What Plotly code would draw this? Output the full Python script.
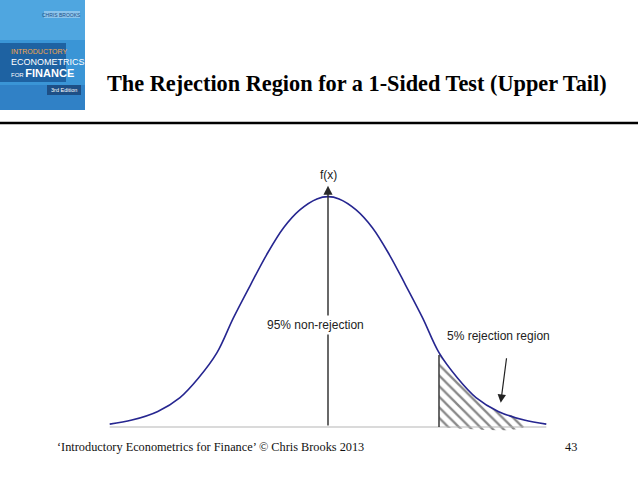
import plotly.graph_objects as go

# ---- data (x in standard units, y = density) ----
curve_x = [-2.95, -2.65, -2.3, -2.0, -1.75, -1.5, -1.28, -1.05, -0.83, -0.6, -0.38, -0.15, 0.0,
           0.15, 0.38, 0.6, 0.83, 1.05, 1.28, 1.5, 1.75, 2.0, 2.3, 2.65, 2.95]
curve_y = [0.005, 0.012, 0.027, 0.051, 0.085, 0.129, 0.189, 0.246, 0.299, 0.346, 0.377, 0.396, 0.400,
           0.396, 0.377, 0.346, 0.299, 0.246, 0.189, 0.129, 0.085, 0.051, 0.027, 0.012, 0.005]
critical_value = 1.5
tail_end = 2.65
axis_top = 0.419

title_text = "The Rejection Region for a 1-Sided Test (Upper Tail)"
footer_text = "\u2018Introductory Econometrics for Finance\u2019 \u00a9 Chris Brooks 2013"
page_number = "43"
label_fx = "f(x)"
label_accept = "95% non-rejection"
label_reject = "5% rejection region"

W, H = 638, 478


def px(x):
    return x / W


def py(y):
    return 1 - y / H


def ptext(x, y, text, font, xanchor="center"):
    return dict(x=px(x), y=py(y), xref="paper", yref="paper", xanchor=xanchor, yanchor="middle",
                text=text, showarrow=False, font=font)


tail_x = [x for x in curve_x if critical_value <= x <= tail_end]
tail_y = [y for x, y in zip(curve_x, curve_y) if critical_value <= x <= tail_end]
crit_y = curve_y[curve_x.index(critical_value)]

fig = go.Figure()

# hatched rejection region
fig.add_trace(go.Scatter(
    x=tail_x + [tail_x[-1], critical_value], y=tail_y + [0, 0],
    mode="none", fill="toself", fillcolor="white",
    fillpattern=dict(shape="\\", size=7.5, solidity=0.3, fgcolor="#111111", bgcolor="white"),
    line=dict(shape="spline"), hoverinfo="skip", showlegend=False))

# baseline
fig.add_trace(go.Scatter(x=[curve_x[0], curve_x[-1]], y=[0, 0], mode="lines",
                         line=dict(color="#b5b5b5", width=1.2), hoverinfo="skip", showlegend=False))

# critical value line
fig.add_trace(go.Scatter(x=[critical_value, critical_value], y=[0, crit_y - 0.004], mode="lines",
                         line=dict(color="#444444", width=1.6), hoverinfo="skip", showlegend=False))

# density curve
fig.add_trace(go.Scatter(x=curve_x, y=curve_y, mode="lines",
                         line=dict(color="#262690", width=1.6, shape="spline", smoothing=1.0),
                         hoverinfo="skip", showlegend=False))

sans = "Liberation Sans, Arial"
serif = "Liberation Serif, Times New Roman"

annotations = [
    # vertical f(x) axis arrow
    dict(x=0, y=axis_top, ax=0, ay=0, xref="x", yref="y", axref="x", ayref="y",
         showarrow=True, arrowhead=2, arrowsize=1.3, arrowwidth=1.4, arrowcolor="#2a2a2a", text=""),
    dict(x=0, y=axis_top + 0.018, xref="x", yref="y", text=label_fx, showarrow=False,
         font=dict(family=sans, size=12, color="#222222")),
    dict(x=-0.165, y=0.177, xref="x", yref="y", text=label_accept, showarrow=False,
         bgcolor="white", borderpad=2,
         font=dict(family=sans, size=12, color="#222222")),
    dict(x=2.3, y=0.158, xref="x", yref="y", text=label_reject, showarrow=False,
         font=dict(family=sans, size=12, color="#222222")),
    # arrow to rejection region
    dict(x=2.334, y=0.042, ax=2.415, ay=0.122, xref="x", yref="y", axref="x", ayref="y",
         showarrow=True, arrowhead=2, arrowsize=1.4, arrowwidth=1.2, arrowcolor="#222222", text=""),
    # title
    ptext(357, 83, "<b>" + title_text + "</b>", dict(family=serif, size=22.3, color="black")),
    # footer
    ptext(55, 447, footer_text, dict(family=serif, size=12.3, color="#111111"), xanchor="left"),
    ptext(571, 447, page_number, dict(family=serif, size=12.3, color="#111111")),
    # book cover texts
    ptext(62, 14.5, "CHRIS BROOKS", dict(family=sans, size=5, color="#1d4f86")),
    ptext(9, 52, "INTRODUCTORY", dict(family=sans, size=7, color="#f3a94a"), xanchor="left"),
    ptext(9, 62, "ECONOMETRICS", dict(family=sans, size=9, color="white"), xanchor="left"),
    ptext(9, 73, "<span style='font-size:6px'>FOR </span><b>FINANCE</b>",
          dict(family=sans, size=11, color="white"), xanchor="left"),
    ptext(64, 90, "3rd Edition", dict(family=sans, size=5.5, color="white")),
]

shapes = [
    dict(type="rect", xref="paper", yref="paper", x0=px(0), x1=px(85), y0=py(110), y1=py(0),
         fillcolor="#3a95d6", line=dict(width=0), layer="below"),
    dict(type="rect", xref="paper", yref="paper", x0=px(0), x1=px(85), y0=py(40), y1=py(0),
         fillcolor="#5db3e6", opacity=0.6, line=dict(width=0), layer="below"),
    dict(type="rect", xref="paper", yref="paper", x0=px(0), x1=px(85), y0=py(110), y1=py(85),
         fillcolor="#2a74ba", opacity=0.6, line=dict(width=0), layer="below"),
    dict(type="rect", xref="paper", yref="paper", x0=px(44), x1=px(80), y0=py(18), y1=py(11),
         fillcolor="#8cc4ec", line=dict(width=0), layer="below"),
    dict(type="rect", xref="paper", yref="paper", x0=px(0), x1=px(66), y0=py(82), y1=py(43),
         fillcolor="#1c5c9c", opacity=0.9, line=dict(width=0), layer="below"),
    dict(type="rect", xref="paper", yref="paper", x0=px(47), x1=px(81), y0=py(95), y1=py(85),
         fillcolor="#1d4f86", line=dict(width=0), layer="below"),
    # title rule
    dict(type="line", xref="paper", yref="paper", x0=0, x1=1, y0=py(123), y1=py(123),
         line=dict(color="black", width=2.6)),
]

fig.update_layout(
    width=W, height=H,
    margin=dict(l=0, r=0, t=0, b=0, autoexpand=False),
    paper_bgcolor="white", plot_bgcolor="white",
    xaxis=dict(visible=False, range=[-328 / 74, (638 - 328) / 74], domain=[0, 1], fixedrange=True),
    yaxis=dict(visible=False, range=[(427 - 478) / 576, 427 / 576], domain=[0, 1], fixedrange=True),
    annotations=annotations, shapes=shapes, showlegend=False,
)

fig.write_html("out.html", post_script="document.body.style.margin='0px';",
               config={"displayModeBar": False})
